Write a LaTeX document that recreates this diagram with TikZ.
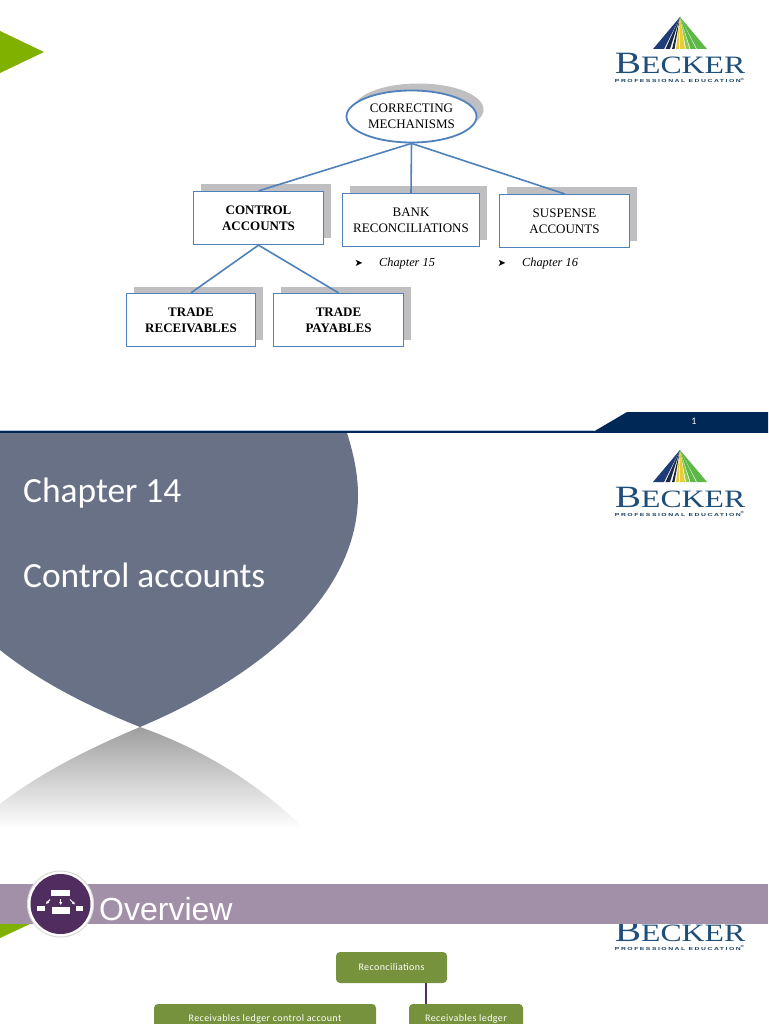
\documentclass[tikz,border=0pt]{standalone}
\usepackage{fontspec}
\setmainfont{Liberation Serif}
\newfontfamily\slidefont{Carlito}
\newfontfamily\labelfont[LetterSpace=4]{Carlito}
\newfontfamily\headfont{Liberation Sans}
\newfontfamily\bulletfont{DejaVu Sans}
\newfontfamily\taglinefont[LetterSpace=22]{Liberation Sans}
\usetikzlibrary{shadows,shapes.geometric,arrows.meta}
\definecolor{chartblue}{HTML}{4F81BD}
\definecolor{chartshadow}{HTML}{BFBFC1}
\definecolor{slate}{HTML}{697186}
\definecolor{navy}{HTML}{002856}
\definecolor{leaf}{HTML}{80B000}
\definecolor{mauve}{HTML}{A28FA8}
\definecolor{plum}{HTML}{4F2D5E}
\definecolor{olive}{HTML}{76923C}
\definecolor{beckerblue}{HTML}{1F4E79}
\definecolor{raynavy}{HTML}{1D3C78}
\definecolor{rayink}{HTML}{1A2A44}
\definecolor{rayyellow}{HTML}{E8CC3A}
\definecolor{raygreen}{HTML}{5DB848}
\definecolor{raylime}{HTML}{8CCB50}
\tikzset{
    chart-box/.style = {draw=chartblue, fill=white, line width=1.3pt, rectangle, align=center, inner sep=0pt, minimum width=130pt, minimum height=53pt, font=\fontsize{13}{16}\selectfont, copy shadow={shadow xshift=7pt, shadow yshift=7pt, fill=chartshadow, draw=none}},
    chart-oval/.style = {chart-box, ellipse, line width=1.8pt, minimum height=52pt},
    chart-link/.style = {draw=chartblue, line width=1.6pt},
    chapter-note/.style = {anchor=base west, inner sep=0pt, font=\fontsize{12.3}{14}\selectfont\itshape},
    chapter-tick/.style = {anchor=base west, inner sep=0pt, font=\fontsize{10}{11}\selectfont\bulletfont},
    green-box/.style = {fill=olive, rounded corners=4pt, text=white, inner sep=0pt, font=\fontsize{10}{11}\labelfont},
    icon-part/.style = {fill=white, inner sep=0pt},
    icon-arrow/.style = {white, line width=1pt, -{Latex[length=3pt,width=3.5pt]}},
    becker-logo/.pic = {
        \foreach \left/\right/\raycolor in {653/664/raynavy, 665.5/670/rayink, 672/674.5/rayink, 676/679/rayyellow, 680/685/rayyellow, 686/689.5/raylime, 690.5/696/raygreen, 697/707/raygreen}
            \fill[\raycolor] (680,17) -- (\left,49) -- (\right,49) -- cycle;
        \node[text=beckerblue, anchor=base, inner sep=0pt, font=\fontsize{25}{28}\selectfont] at (680,74) {\scalebox{1.27}[1]{{\fontsize{31}{32}\selectfont B}ECKER}};
        \node[text=beckerblue!80!black, anchor=base, inner sep=0pt, font=\fontsize{4.4}{5}\taglinefont\bfseries] at (680,83) {\scalebox{1.55}[1]{PROFESSIONAL EDUCATION\textsuperscript{®}}};
    },
}
\begin{document}
\begin{tikzpicture}[x=1pt, y=-1pt]
\useasboundingbox (0,0) rectangle (768,1024);
\fill[white] (0,0) rectangle (768,1024);

\fill[leaf] (0,31) -- (44,52) -- (0,73) -- cycle;
\pic at (0,0) {becker-logo};

\node[chart-oval] (mechanisms) at (411.5,116.5) {CORRECTING\\MECHANISMS};
\node[chart-box, font=\fontsize{13}{16}\selectfont\bfseries] (control) at (258.5,218) {CONTROL\\ACCOUNTS};
\node[chart-box, minimum width=137pt] (bank) at (411,220) {BANK\\RECONCILIATIONS};
\node[chart-box] (suspense) at (564.5,221) {SUSPENSE\\ACCOUNTS};
\node[chart-box, minimum width=129pt, font=\fontsize{13}{16}\selectfont\bfseries] (receivables) at (191,320) {TRADE\\RECEIVABLES};
\node[chart-box, font=\fontsize{13}{16}\selectfont\bfseries] (payables) at (338.5,320) {TRADE\\PAYABLES};

\draw[chart-link] (mechanisms.south) -- (control.north);
\draw[chart-link] (mechanisms.south) -- (bank.north);
\draw[chart-link] (mechanisms.south) -- (suspense.north);
\draw[chart-link] (control.south) -- (receivables.north);
\draw[chart-link] (control.south) -- (payables.north);

\node[chapter-tick] (tick15) at (354.5,266) {➤};
\node[chapter-note] (note15) at (379,266) {Chapter 15};
\node[chapter-tick] (tick16) at (497.5,266) {➤};
\node[chapter-note] (note16) at (522,266) {Chapter 16};

\fill[navy] (593,432) -- (627,412) -- (768,412) -- (768,433) -- cycle;
\fill[navy] (0,431) rectangle (768,433);
\fill[chartblue!45] (0,430) rectangle (594,431);
\node[text=white, font=\fontsize{10}{11}\slidefont] (pagenumber) at (694,421.5) {1};

\fill[slate] (347,433) .. controls (355,458) and (358,478) .. (358,495) .. controls (358,590) and (270,672) .. (140,727) .. controls (90,707) and (40,682) .. (0,650) -- (0,433) -- cycle;
\shade[top color=black!38, bottom color=white] (140,727) .. controls (205,750) and (260,785) .. (303,828) -- (0,828) -- (0,804) .. controls (40,773) and (90,748) .. (140,727) -- cycle;
\pic at (0,433) {becker-logo};
\node[anchor=base west, inner sep=0pt, text=white, font=\fontsize{35.4}{38}\slidefont] (chapter) at (23,502) {Chapter 14};
\node[anchor=base west, inner sep=0pt, text=white, font=\fontsize{35.4}{38}\slidefont] (topic) at (23,587) {Control accounts};

\pic at (0,867) {becker-logo};
\fill[leaf] (0,938) -- (30,924) -- (0,924) -- cycle;
\fill[mauve] (0,884) rectangle (768,924);
\node[circle, draw=black!15, line width=1pt, fill=white, minimum size=66pt, inner sep=0pt] (ring) at (60.5,904) {};
\node[circle, fill=plum, minimum size=60pt, inner sep=0pt] (badge) at (60.5,904) {};
\node[anchor=base west, inner sep=0pt, text=white, font=\fontsize{32}{36}\headfont] (overview) at (99,920) {Overview};
\node[icon-part, minimum width=19pt, minimum height=6.5pt] (icontop) at (60.5,893) {};
\node[icon-part, minimum width=18pt, minimum height=7pt] (iconmid) at (60.5,910.5) {};
\node[icon-part, minimum width=8pt, minimum height=5pt] (iconleft) at (41,908.5) {};
\node[icon-part, minimum width=7pt, minimum height=5pt] (iconright) at (79.5,908.5) {};
\coordinate (arrowtop) at (60.7,899);
\coordinate (arrowleft) at (50,899.5);
\coordinate (arrowright) at (70,899.5);
\coordinate (headmid) at (60.7,905);
\coordinate (headleft) at (46,904);
\coordinate (headright) at (75,904.5);
\draw[icon-arrow] (arrowtop) -- (headmid);
\draw[icon-arrow] (arrowleft) -- (headleft);
\draw[icon-arrow] (arrowright) -- (headright);

\node[green-box, minimum width=111pt, minimum height=31pt] (reconciliations) at (391.5,967.5) {Reconciliations};
\node[green-box, minimum width=222pt, minimum height=30pt] (controlaccount) at (265,1019) {\raisebox{2pt}{Receivables ledger control account}};
\node[green-box, minimum width=114pt, minimum height=30pt] (ledger) at (466,1019) {\raisebox{2pt}{Receivables ledger}};
\draw[plum, line width=1.2pt] (reconciliations.south -| 426,0) -- (ledger.north -| 426,0);
\end{tikzpicture}
\end{document}
